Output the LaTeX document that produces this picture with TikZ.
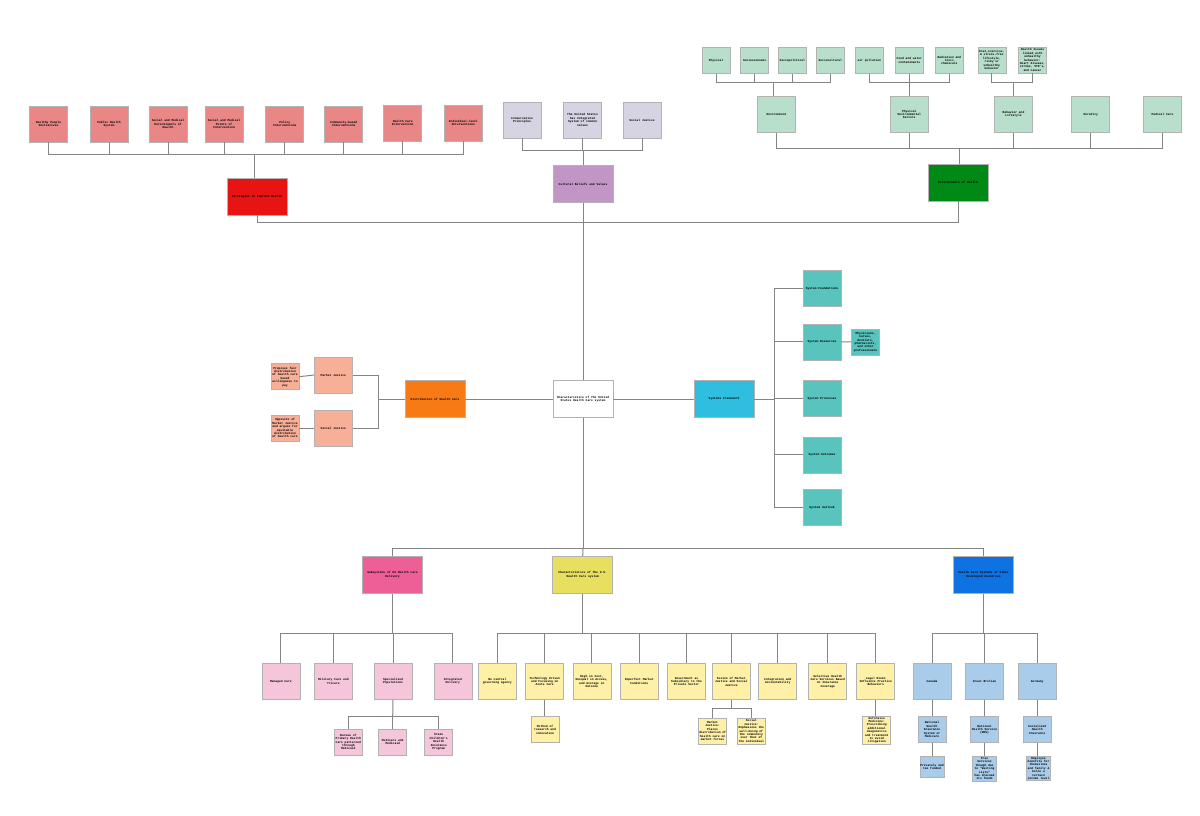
\documentclass[tikz,border=0pt]{standalone}
\usepackage{fontspec}
\setmonofont{Liberation Mono}
\usepackage{tikz}
\usepackage{xcolor}
\definecolor{redlt}{HTML}{E98686}
\definecolor{redhi}{HTML}{E81414}
\definecolor{graylt}{HTML}{D6D3E3}
\definecolor{purp}{HTML}{C196C6}
\definecolor{greenlt}{HTML}{B8DFCB}
\definecolor{greenhi}{HTML}{008A15}
\definecolor{salmon}{HTML}{F7AF97}
\definecolor{orng}{HTML}{F77A14}
\definecolor{cyanhi}{HTML}{2FBDE0}
\definecolor{teal}{HTML}{58C4BD}
\definecolor{pinkhi}{HTML}{EE5F98}
\definecolor{pinklt}{HTML}{F5C6D9}
\definecolor{yellhi}{HTML}{E8DE5F}
\definecolor{yelllt}{HTML}{FEF0A6}
\definecolor{bluehi}{HTML}{0E72E3}
\definecolor{bluelt}{HTML}{A8CCE9}
\definecolor{linegray}{HTML}{858585}
\newcommand{\boxfont}{\ttfamily\bfseries\fontsize{3}{3.4}\selectfont}

\begin{document}
\begin{tikzpicture}[x=1pt,y=-1pt,
  box/.style={draw=black!30,line width=0.6pt,align=center,inner xsep=0pt,inner ysep=1pt,font=\boxfont},
  big/.style={box,minimum width=60pt,minimum height=37pt},
  mid/.style={box,minimum width=38pt,minimum height=36pt},
  sml/.style={box,minimum width=28pt,minimum height=26pt},
  tny/.style={box,minimum width=24pt,minimum height=21pt},
  link/.style={draw=linegray,line width=1pt}]
  \fill[white] (0,0) rectangle (1200,816);

  \node[mid,fill=redlt] (hpi) at (48.5,124) {Healthy People\\Initiatives};
  \node[mid,fill=redlt] (phs) at (109,124) {Public Health\\System};
  \node[mid,fill=redlt] (smd) at (168,124) {Social and Medical\\Determinants of\\Health};
  \node[mid,fill=redlt] (smp) at (224,124) {Social and Medical\\Points of\\Intervention};
  \node[mid,fill=redlt] (pol) at (284.7,124) {Policy\\Interventions};
  \node[mid,fill=redlt] (cbi) at (343.7,124) {Community-based\\Interventions};
  \node[mid,fill=redlt] (hci) at (402.7,123) {Health Care\\Intervention};
  \node[mid,fill=redlt] (ili) at (463.3,123) {Individual-level\\Interventions};
  \node[big,fill=redhi] (sih) at (257,196.5) {Strategies to Improve Health};
  \coordinate (sbus) at (254,154);
  \foreach \n in {hpi,phs,smd,smp,pol,cbi,hci,ili}
    \draw[link] (\n.south) |- (sbus);
  \draw[link] (sbus) -- (sbus |- sih.north);

  \node[mid,fill=graylt] (cons) at (522,120) {Conservative\\Principles};
  \node[mid,fill=graylt] (usis) at (582.5,120) {The United States\\has Integrated\\System of common\\values};
  \node[mid,fill=graylt] (sjus) at (642,120) {Social Justice};
  \node[big,fill=purp] (cbv) at (583,184) {Cultural Beliefs and Values};
  \coordinate (cbus) at (583,150);
  \foreach \n in {cons,usis,sjus}
    \draw[link] (\n.south) |- (cbus);
  \draw[link] (cbus) -- (cbv.north);

  \node[sml,fill=greenlt] (phy) at (716,60.5) {Physical};
  \node[sml,fill=greenlt] (soe) at (754.7,60.5) {Socioeconomic};
  \node[sml,fill=greenlt] (sop) at (792.3,60.5) {Sociopolitical};
  \node[sml,fill=greenlt] (soc) at (830.3,60.5) {Sociocultural};
  \node[sml,fill=greenlt] (air) at (869.3,60.5) {air pollution};
  \node[sml,fill=greenlt] (fwc) at (909.3,60.5) {Food and water\\contaminants};
  \node[sml,fill=greenlt] (rtc) at (949.3,60.5) {Radiation and\\toxic\\chemicals};
  \node[sml,fill=greenlt] (dex) at (991.8,60) {Diet,exercise,\\\& stress-free\\lifestyle,\\risky or\\unhealthy\\behavior};
  \node[sml,fill=greenlt] (his) at (1032.5,60) {Health Issues\\linked with\\unhealthy\\behavior:\\Heart disease,\\stroke, STD's,\\and cancer};
  \node[mid,fill=greenlt] (env) at (776.5,114.5) {Environment};
  \node[mid,fill=greenlt] (pef) at (909.2,114.5) {Physical\\Environmental\\Factors};
  \node[mid,fill=greenlt] (bal) at (1013.5,114.5) {Behavior and\\Lifestyle};
  \node[mid,fill=greenlt] (her) at (1090.7,114.5) {Heredity};
  \node[mid,fill=greenlt] (mcr) at (1162.5,114.5) {Medical Care};
  \node[big,fill=greenhi] (doh) at (958,182.5) {Determinants of Health};
  \coordinate (ebus) at (773.3,82.7);
  \coordinate (pbus) at (909.3,82.7);
  \coordinate (lbus2) at (1013.3,82.7);
  \coordinate (dbus) at (959,148.3);
  \foreach \n in {phy,soe,sop,soc}
    \draw[link] (\n.south) |- (ebus);
  \foreach \n in {air,fwc,rtc}
    \draw[link] (\n.south) |- (pbus);
  \foreach \n in {dex,his}
    \draw[link] (\n.south) |- (lbus2);
  \draw[link] (ebus) -- (ebus |- env.north);
  \draw[link] (pbus) -- (pbus |- pef.north);
  \draw[link] (lbus2) -- (lbus2 |- bal.north);
  \foreach \n in {env,pef,bal,her,mcr}
    \draw[link] (\n.south) |- (dbus);
  \draw[link] (dbus) -- (dbus |- doh.north);

  \node[big,fill=white] (char) at (583,399) {Characteristics of The United\\States Health Care system};
  \coordinate (tbus) at (583,222);
  \draw[link] (sih.south) |- (tbus);
  \draw[link] (doh.south) |- (tbus);
  \draw[link] (cbv.south) -- (char.north);

  \node[big,fill=orng] (dhc) at (435,399) {Distribution of Health Care};
  \node[mid,fill=salmon] (mjus) at (333.3,375) {Market Justice};
  \node[mid,fill=salmon] (sojus) at (333.3,428.3) {Social Justice};
  \node[sml,fill=salmon] (pfd) at (285,376.7) {Proposes fair\\distribution\\of health care\\based\\willingness to\\pay};
  \node[sml,fill=salmon] (opp) at (285,428.3) {Opposite of\\Market Justice\\and argues for\\equitable\\distribution\\of health care};
  \coordinate (lbus) at (378.3,399);
  \draw[link] (mjus.east) -| (lbus);
  \draw[link] (sojus.east) -| (lbus);
  \draw[link] (lbus) -- (dhc.west);
  \draw[link] (pfd.east) -- (mjus.west);
  \draw[link] (opp.east) -- (sojus.west);
  \draw[link] (dhc.east) -- (char.west);

  \node[big,fill=cyanhi] (sysf) at (724,399) {Systems Framework};
  \node[mid,fill=teal] (sfo) at (822,288.5) {System Foundations};
  \node[mid,fill=teal] (sres) at (822,341.8) {System Resources};
  \node[mid,fill=teal] (spro) at (822,398.5) {System Processes};
  \node[mid,fill=teal] (sout) at (822,454.8) {System Outcomes};
  \node[mid,fill=teal] (slook) at (822,507.5) {System Outlook};
  \node[sml,fill=teal] (prof) at (865.5,342) {Physicians,\\nurses,\\dentists,\\pharmacists,\\and other\\professionals};
  \coordinate (rbus) at (774,399);
  \draw[link] (char.east) -- (sysf.west);
  \draw[link] (sysf.east) -- (rbus);
  \foreach \n in {sfo,sres,spro,sout,slook}
    \draw[link] (\n.west) -| (rbus);
  \draw[link] (sres.east) -- (prof.west);

  \node[big,fill=pinkhi] (sub) at (392.5,574.7) {Subsystems of US Health care\\Delivery};
  \node[big,fill=yellhi] (chus) at (582.7,574.7) {Characteristics of The U.S.\\Health Care system};
  \node[big,fill=bluehi] (hcs) at (983.5,574.7) {Health Care Systems of Other\\Developed Countries};
  \coordinate (bbus) at (583,548);
  \draw[link] (char.south) -- (bbus);
  \draw[link] (sub.north) |- (bbus);
  \draw[link] (hcs.north) |- (bbus);
  \draw[link] (bbus) -- (chus.north);

  \node[mid,fill=pinklt] (mgd) at (280.8,681.5) {Managed Care};
  \node[mid,fill=pinklt] (mil) at (333.3,681.5) {Military Care and\\Tricare};
  \node[mid,fill=pinklt] (spp) at (393,681.5) {Specialized\\Populations};
  \node[mid,fill=pinklt] (intd) at (452.8,681.5) {Integrated\\Delivery};
  \node[sml,fill=pinklt] (bph) at (348.3,742) {Bureau of\\Primary Health\\Care patterned\\through\\Medicaid};
  \node[sml,fill=pinklt] (mmd) at (392.7,742) {Medicare and\\Medicaid};
  \node[sml,fill=pinklt] (schip) at (438.7,742) {State\\Children's\\Health\\Insurance\\Program};
  \coordinate (pkbus) at (392.5,633.3);
  \coordinate (spbus) at (392.7,716.7);
  \draw[link] (sub.south) -- (pkbus);
  \foreach \n in {mgd,mil,spp,intd}
    \draw[link] (\n.north) |- (pkbus);
  \draw[link] (spp.south) -- (spbus);
  \foreach \n in {bph,mmd,schip}
    \draw[link] (\n.north) |- (spbus);

  \node[mid,fill=yelllt] (ncg) at (497.3,681.5) {No central\\governing agency};
  \node[mid,fill=yelllt] (tda) at (544.7,681.5) {Technology Driven\\and Focusing on\\Acute Care};
  \node[mid,fill=yelllt] (hic) at (591.8,681.5) {High in Cost,\\Unequal in Access,\\and Average in\\Outcome};
  \node[mid,fill=yelllt] (imc) at (639.2,681.5) {Imperfect Market\\Conditions};
  \node[mid,fill=yelllt] (gsp) at (686.5,681.5) {Government as\\Subsidiary to the\\Private Sector};
  \node[mid,fill=yelllt] (fmj) at (731.3,681.5) {Fusion of Market\\Justice and Social\\Justice};
  \node[mid,fill=yelllt] (iac) at (777.7,681.5) {Integration and\\Accountability};
  \node[mid,fill=yelllt] (shc) at (827.7,681.5) {Selective Health\\Care Services Based\\on Insurance\\Coverage};
  \node[mid,fill=yelllt] (lrb) at (875.7,681.5) {Legal Risks\\Influence Practice\\Behaviors};
  \node[sml,fill=yelllt] (mri) at (545,729.7) {Method of\\research and\\innovation};
  \node[sml,fill=yelllt] (mjp) at (712.5,731) {Market\\Justice:\\Places\\distribution of\\health care on\\market forces};
  \node[sml,fill=yelllt] (sje) at (751.3,731) {Social\\Justice:\\Emphasizes the\\well-being of\\the community\\over that of\\the individual};
  \node[sml,fill=yelllt] (dfm) at (876.7,730.3) {Defensive\\Medicine:\\Prescribing\\additional\\diagnostics\\and treatment\\to avoid\\litigation};
  \coordinate (ybus) at (582.7,633.3);
  \coordinate (fbus) at (731.3,708.7);
  \draw[link] (chus.south) -- (ybus);
  \foreach \n in {ncg,tda,hic,imc,gsp,fmj,iac,shc,lrb}
    \draw[link] (\n.north) |- (ybus);
  \draw[link] (tda.south) -- (tda.south |- mri.north);
  \draw[link] (fmj.south) -- (fbus);
  \foreach \n in {mjp,sje}
    \draw[link] (\n.north) |- (fbus);
  \draw[link] (lrb.south) -- (lrb.south |- dfm.north);

  \node[mid,fill=bluelt] (can) at (932,681.5) {Canada};
  \node[mid,fill=bluelt] (gbr) at (984.5,681.5) {Great Britian};
  \node[mid,fill=bluelt] (ger) at (1037.2,681.5) {Germany};
  \node[sml,fill=bluelt] (nhi) at (932,729.7) {National\\Health\\Insurance\\System or\\Medicare};
  \node[sml,fill=bluelt] (nhs) at (984.5,729.7) {National\\Health Service\\(NHS)};
  \node[sml,fill=bluelt] (shi) at (1037.2,729.7) {Socialized\\Health\\Insurance};
  \node[tny,fill=bluelt] (ptf) at (932,767) {Privately and\\tax funded};
  \node[tny,fill=bluelt] (fsv) at (984.5,768.7) {Free\\Services\\though due\\to "Waiting\\Lists"\\has drained\\its funds};
  \node[tny,fill=bluelt] (ebf) at (1038.5,768.2) {Employee\\benefits for\\themselves\\and family \&\\below a\\certain\\income level};
  \coordinate (hbus) at (983.5,633.3);
  \draw[link] (hcs.south) -- (hbus);
  \foreach \n in {can,gbr,ger}
    \draw[link] (\n.north) |- (hbus);
  \draw[link] (can.south) -- (nhi.north);
  \draw[link] (gbr.south) -- (nhs.north);
  \draw[link] (ger.south) -- (shi.north);
  \draw[link] (nhi.south) -- (ptf.north);
  \draw[link] (nhs.south) -- (fsv.north);
  \draw[link] (shi.south) -- (shi.south |- ebf.north);
\end{tikzpicture}
\end{document}
